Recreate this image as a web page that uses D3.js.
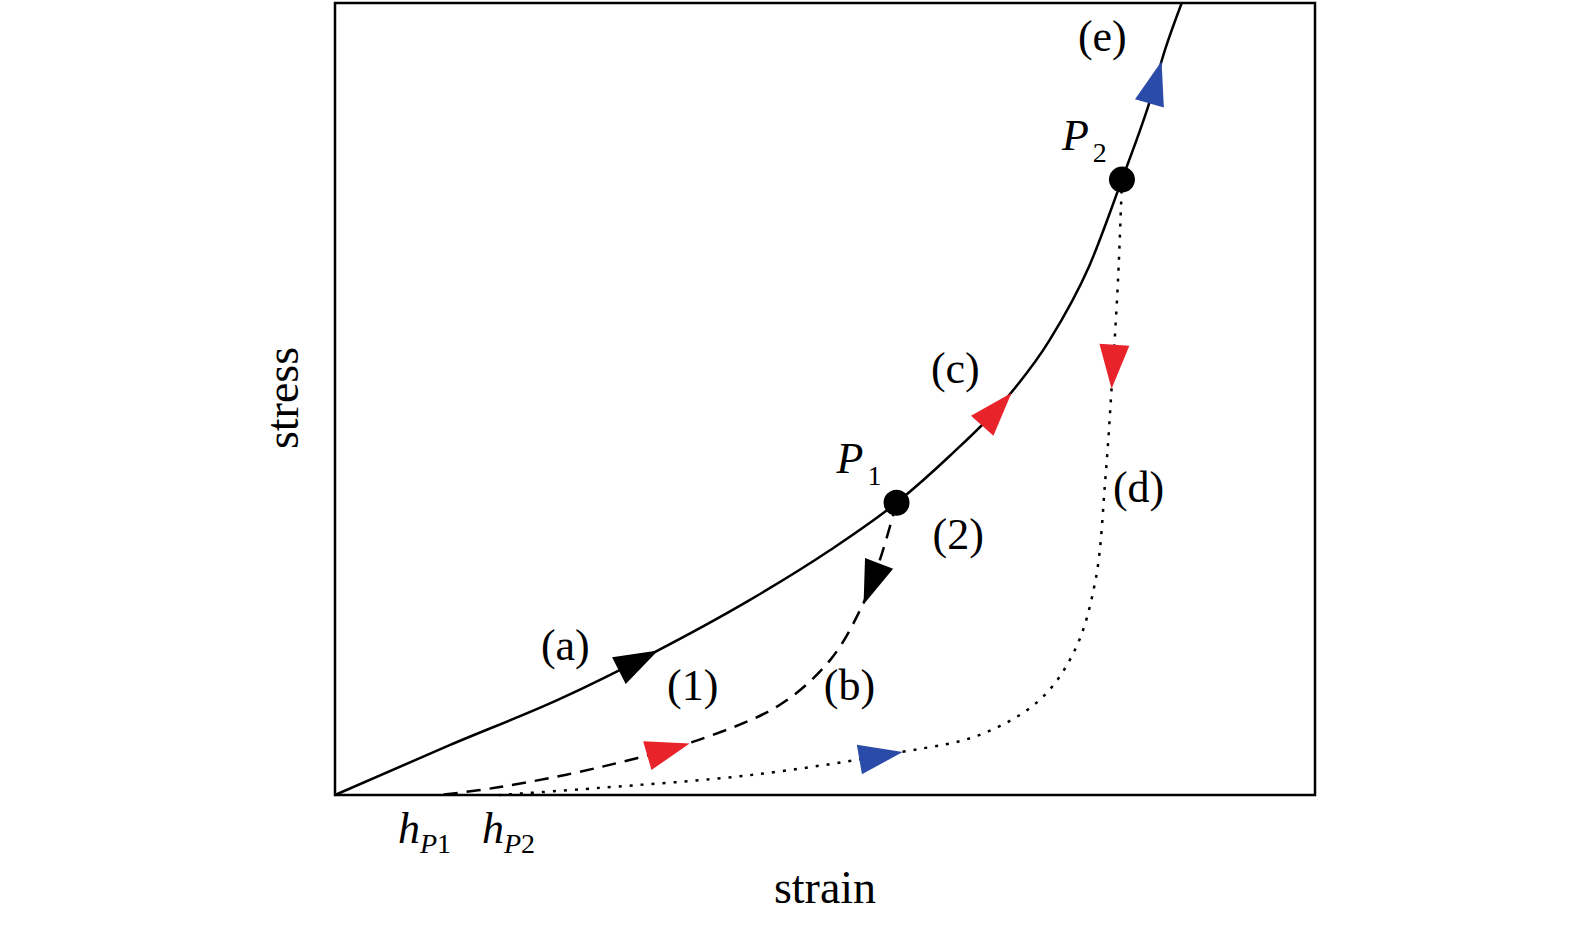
<!DOCTYPE html>
<html><head><meta charset="utf-8">
<script src="https://cdn.jsdelivr.net/npm/d3@7"></script>
<style>body{margin:0;background:#fff}text{font-family:"Liberation Serif","DejaVu Serif",serif;fill:#000}</style>
</head><body><svg id="c" width="1575" height="929"></svg>
<script>
// data (strain %, stress %)
const loadCurve = [[0,0],[11.7,6.3],[22.9,12.1],[32.1,17.7],[42.3,24.6],[50.5,30.9],[57.3,36.9],[62.8,42.9],[67.9,49.2],[72.9,57.4],[77.0,66.9],[80.3,77.7],[83.2,87.8],[84.7,94.1],[86.4,100]];
const unload1 = [[57.3,36.9],[55.6,29.7],[53.6,23.4],[50.5,17.0],[45.4,11.4],[37.2,7.0],[27.0,3.5],[16.8,1.0],[10.7,0]];
const unload2 = [[80.3,77.7],[79.9,65.0],[79.3,52.4],[78.6,39.8],[77.6,27.1],[75.5,18.3],[71.9,12.0],[65.8,7.6],[57.7,5.4],[42.3,2.5],[27.0,0.9],[16.8,0]];
const points = [{name:"P",sub:"1",x:57.3,y:36.9},{name:"P",sub:"2",x:80.3,y:77.7}];
// arrows: curve index, fraction along curve, colour, reversed
const arrows = [[0,0.27,"#000",0],[0,0.63,"#e8232a",0],[0,0.93,"#2b4ba8",0],[1,0.14,"#000",0],[1,0.61,"#e8232a",1],[2,0.17,"#e8232a",0],[2,0.65,"#2b4ba8",1]];
const labels = [["(a)",23.5,17],["(1)",36.5,12],["(b)",52.5,12],["(2)",63.6,31],["(c)",63.3,52],["(d)",82,37],["(e)",78.3,94]];

const svg = d3.select("#c");
const x = d3.scaleLinear().domain([0,100]).range([335,1315]);
const y = d3.scaleLinear().domain([0,100]).range([795,3]);
svg.append("rect").attr("x",335).attr("y",3).attr("width",980).attr("height",792).attr("fill","none").attr("stroke","#000").attr("stroke-width",2.5);
const curves = [loadCurve,unload1,unload2];
const dashes = [null,"14,9","3,8"];
const paths = curves.map((c,i)=>{
  const line = d3.line().x(d=>x(d[0])).y(d=>y(d[1])).curve(i===0?d3.curveMonotoneX:d3.curveCatmullRom);
  return svg.append("path").attr("d",line(c)).attr("fill","none").attr("stroke","#000").attr("stroke-width",2.5).attr("stroke-dasharray",dashes[i]).node();
});
arrows.forEach(([ci,f,col,rev])=>{
  const p=paths[ci], L=p.getTotalLength(), a=p.getPointAtLength(L*f), b=p.getPointAtLength(L*f+3);
  const ang=Math.atan2(b.y-a.y,b.x-a.x)*180/Math.PI+(rev?180:0);
  svg.append("path").attr("d","M24,0L-20,-15L-20,15Z").attr("fill",col)
   .attr("transform",`translate(${a.x},${a.y}) rotate(${ang})`);
});
points.forEach(p=>{
  svg.append("circle").attr("cx",x(p.x)).attr("cy",y(p.y)).attr("r",13).attr("fill","#000");
  const t=svg.append("text").attr("x",x(p.x)-60).attr("y",y(p.y)-30).attr("font-size",44);
  t.append("tspan").attr("font-style","italic").text(p.name);
  t.append("tspan").attr("font-size",28).attr("dx",4).attr("dy",12).text(p.sub);
});
labels.forEach(([s,lx,ly])=>svg.append("text").attr("x",x(lx)).attr("y",y(ly)).attr("font-size",44).attr("text-anchor","middle").text(s));
svg.append("text").attr("x",825).attr("y",903).attr("font-size",46).attr("text-anchor","middle").text("strain");
svg.append("text").attr("transform","translate(298,398) rotate(-90)").attr("font-size",46).attr("text-anchor","middle").text("stress");
[["P1",398],["P2",482]].forEach(([s,hx])=>{
  const t=svg.append("text").attr("x",hx).attr("y",843).attr("font-size",44);
  t.append("tspan").attr("font-style","italic").text("h");
  t.append("tspan").attr("font-size",28).attr("dy",10).attr("font-style","italic").text(s[0]).append("tspan").attr("font-style","normal").text(s[1]);
});
</script></body></html>
